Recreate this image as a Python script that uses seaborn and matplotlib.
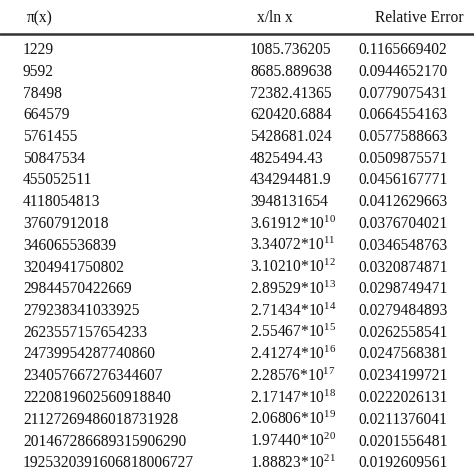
import matplotlib
matplotlib.use("Agg")
import matplotlib.pyplot as plt
import seaborn as sns

sns.set_theme(style="white")
plt.rcParams["font.family"] = ["Liberation Serif", "DejaVu Serif"]
plt.rcParams["mathtext.fontset"] = "custom"
plt.rcParams["mathtext.rm"] = "Liberation Serif"
plt.rcParams["mathtext.it"] = "Liberation Serif:italic"

headers = ["\u03c0(x)", "x/ln x", "Relative Error"]

prime_counts = [
    "1229", "9592", "78498", "664579", "5761455", "50847534", "455052511",
    "4118054813", "37607912018", "346065536839", "3204941750802",
    "29844570422669", "279238341033925", "2623557157654233",
    "24739954287740860", "234057667276344607", "2220819602560918840",
    "21127269486018731928", "201467286689315906290", "1925320391606818006727",
]

approx_mantissa = [
    "1085.736205", "8685.889638", "72382.41365", "620420.6884", "5428681.024",
    "4825494.43", "434294481.9", "3948131654", "3.61912", "3.34072",
    "3.10210", "2.89529", "2.71434", "2.55467", "2.41274", "2.28576",
    "2.17147", "2.06806", "1.97440", "1.88823",
]
approx_exponent = [0, 0, 0, 0, 0, 0, 0, 0, 10, 11, 12, 13, 14, 15, 16, 17, 18, 19, 20, 21]

relative_error = [
    "0.1165669402", "0.0944652170", "0.0779075431", "0.0664554163",
    "0.0577588663", "0.0509875571", "0.0456167771", "0.0412629663",
    "0.0376704021", "0.0346548763", "0.0320874871", "0.0298749471",
    "0.0279484893", "0.0262558541", "0.0247568381", "0.0234199721",
    "0.0222026131", "0.0211376041", "0.0201556481", "0.0192609561",
]

col_x = [23, 250, 358]
head_x = [27, 257, 375]
fs = 11.2

fig = plt.figure(figsize=(4.74, 4.74), dpi=100)
ax = fig.add_axes([0, 0, 1, 1])
ax.set_xlim(0, 474)
ax.set_ylim(474, 0)
ax.axis("off")

for hx, h in zip(head_x, headers):
    ax.text(hx, 18, h, fontsize=fs, va="center", ha="left", color="#111111")
ax.axhline(34, color="#333333", linewidth=1.8)

row0, step = 50, 21.75
for i, (p, m, e, r) in enumerate(zip(prime_counts, approx_mantissa, approx_exponent, relative_error)):
    y = row0 + i * step
    approx = m if e == 0 else m + "*10$^{%d}$" % e
    for cx, s in zip(col_x, [p, approx, r]):
        ax.text(cx, y, s, fontsize=fs, va="center", ha="left", color="#111111")

fig.savefig("out.png", dpi=100)
